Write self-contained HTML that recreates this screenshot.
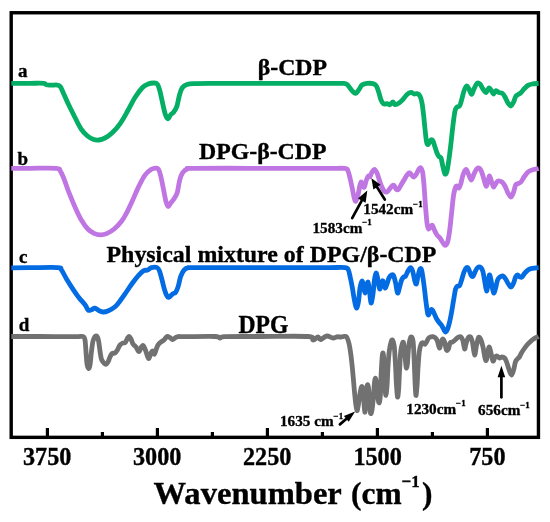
<!DOCTYPE html>
<html><head><meta charset="utf-8"><title>FTIR</title>
<style>
html,body{margin:0;padding:0;background:#fff;}
body{width:550px;height:522px;overflow:hidden;}
svg{display:block;}
text{font-family:"Liberation Serif","DejaVu Serif",serif;font-weight:bold;fill:#000;stroke:#000;stroke-width:0.35px;}
</style></head><body>
<svg width="550" height="522" viewBox="0 0 550 522">
<rect x="0" y="0" width="550" height="522" fill="#fff"/>
<rect x="11.2" y="12.75" width="527.25" height="424.6" fill="none" stroke="#000" stroke-width="3.4"/>
<g id="curves">
<path d="M11.3,83.3C14.4,83.3 24.6,83.3 30.0,83.3C35.4,83.3 40.9,83.1 43.5,83.3C46.1,83.5 44.8,83.9 45.5,84.2C46.2,84.5 46.4,84.8 47.5,85.0C48.6,85.2 50.3,85.1 52.0,85.1C53.7,85.1 56.1,84.8 57.5,85.1C58.9,85.3 59.4,85.6 60.2,86.6C61.0,87.6 61.1,87.9 62.5,91.0C63.9,94.1 66.7,100.6 68.8,105.0C70.9,109.4 73.0,113.5 75.0,117.5C77.0,121.5 78.9,125.7 81.0,128.8C83.1,131.9 85.4,134.2 87.5,136.0C89.6,137.8 91.9,138.8 93.8,139.5C95.7,140.2 96.9,140.2 98.8,140.0C100.7,139.8 102.7,139.2 105.0,138.0C107.3,136.8 110.0,134.9 112.5,132.5C115.0,130.1 117.5,127.3 120.0,123.8C122.5,120.3 125.0,115.7 127.5,111.3C130.0,106.9 132.5,101.5 135.0,97.5C137.5,93.5 140.4,89.7 142.5,87.5C144.6,85.3 145.6,85.0 147.5,84.3C149.4,83.5 152.1,83.0 153.8,83.0C155.5,83.0 156.5,82.9 157.5,84.3C158.5,85.7 159.1,87.8 160.0,91.3C160.9,94.8 162.1,101.0 163.0,105.0C163.9,109.0 164.7,112.7 165.5,115.0C166.3,117.3 167.1,118.9 168.0,118.8C168.9,118.7 169.8,115.6 170.8,114.5C171.8,113.4 172.8,113.4 173.8,112.0C174.8,110.6 176.1,108.8 177.0,106.0C177.9,103.2 178.6,98.1 179.5,95.0C180.4,91.9 181.2,89.2 182.5,87.5C183.8,85.8 184.9,85.2 187.0,84.5C189.1,83.8 191.2,83.8 195.0,83.6C198.8,83.4 199.2,83.4 210.0,83.4C220.8,83.4 245.0,83.4 260.0,83.4C275.0,83.4 288.3,83.4 300.0,83.4C311.7,83.4 322.7,83.4 330.0,83.4C337.3,83.4 341.0,83.1 344.0,83.4C347.0,83.7 346.7,84.2 348.0,85.4C349.3,86.6 350.7,89.3 352.0,90.6C353.3,91.9 354.4,93.6 355.6,93.4C356.8,93.2 357.9,90.8 359.0,89.4C360.1,88.0 360.7,86.0 362.0,85.0C363.3,84.0 365.2,83.6 367.0,83.4C368.8,83.2 371.4,83.2 373.0,83.6C374.6,84.0 375.4,84.4 376.4,86.0C377.4,87.6 378.2,90.7 379.0,93.0C379.8,95.3 380.2,98.2 381.0,100.0C381.8,101.8 382.6,103.4 383.6,104.0C384.6,104.6 386.0,103.5 387.0,103.6C388.0,103.7 388.6,105.1 389.6,104.8C390.6,104.5 392.1,102.0 393.0,102.0C393.9,102.0 394.0,104.4 395.0,104.6C396.0,104.8 397.7,103.9 399.0,103.0C400.3,102.1 401.7,100.8 403.0,99.4C404.3,98.0 405.7,95.6 407.0,94.4C408.3,93.2 409.8,92.5 411.0,92.4C412.2,92.3 413.0,93.8 414.0,94.0C415.0,94.2 416.0,93.3 417.0,93.6C418.0,93.9 419.2,94.4 420.0,96.0C420.8,97.6 421.4,99.8 422.0,103.0C422.6,106.2 423.1,110.7 423.6,115.0C424.1,119.3 424.5,124.7 425.0,129.0C425.5,133.3 425.9,138.4 426.4,141.0C426.9,143.6 427.2,144.8 428.0,144.6C428.8,144.4 430.2,140.6 431.0,140.0C431.8,139.4 432.3,139.8 433.0,141.0C433.7,142.2 434.3,145.0 435.0,147.0C435.7,149.0 436.3,151.4 437.0,153.0C437.7,154.6 438.3,155.8 439.0,156.6C439.7,157.4 440.3,156.3 441.0,158.0C441.7,159.7 442.3,164.3 443.0,167.0C443.7,169.7 444.3,173.3 445.0,174.0C445.7,174.7 446.3,173.5 447.0,171.0C447.7,168.5 448.3,163.7 449.0,159.0C449.7,154.3 450.3,148.7 451.0,143.0C451.7,137.3 452.3,130.3 453.0,125.0C453.7,119.7 454.3,114.0 455.0,111.0C455.7,108.0 456.2,107.8 457.0,107.0C457.8,106.2 458.8,107.2 459.6,106.0C460.4,104.8 460.9,102.5 461.6,100.0C462.3,97.5 463.2,93.3 464.0,91.0C464.8,88.7 465.8,86.3 466.6,86.0C467.4,85.7 468.2,87.6 469.0,89.0C469.8,90.4 470.8,94.4 471.6,94.4C472.4,94.4 473.1,90.8 474.0,89.0C474.9,87.2 476.0,84.2 477.0,83.4C478.0,82.6 479.0,83.1 480.0,84.0C481.0,84.9 482.0,87.6 483.0,89.0C484.0,90.4 485.0,92.8 486.0,92.6C487.0,92.4 488.2,88.4 489.0,88.0C489.8,87.6 490.3,89.0 491.0,90.0C491.7,91.0 492.6,93.9 493.4,94.0C494.2,94.1 495.1,90.8 496.0,90.6C496.9,90.4 497.9,92.1 499.0,92.6C500.1,93.1 501.4,92.7 502.4,93.4C503.4,94.1 504.1,95.4 505.0,97.0C505.9,98.6 507.0,101.5 508.0,103.0C509.0,104.5 510.1,106.2 511.0,106.0C511.9,105.8 512.8,103.6 513.6,102.0C514.4,100.4 514.9,97.8 515.6,96.6C516.3,95.4 517.1,95.3 518.0,94.6C518.9,93.9 520.0,93.5 521.0,92.6C522.0,91.7 522.8,90.2 524.0,89.0C525.2,87.8 526.7,86.2 528.0,85.4C529.3,84.6 530.2,84.3 532.0,84.0C533.8,83.7 537.5,83.5 538.6,83.4" fill="none" stroke="#05ae65" stroke-width="4.8" stroke-linejoin="round" stroke-linecap="butt"/>
<path d="M11.3,168.3C14.4,168.3 22.5,168.3 30.0,168.3C37.5,168.3 51.4,167.9 56.4,168.3C61.4,168.7 58.9,169.0 60.2,170.8C61.5,172.6 62.5,175.2 64.0,178.9C65.5,182.6 67.1,187.9 69.0,192.7C70.9,197.5 73.2,203.1 75.3,207.7C77.4,212.3 79.4,216.8 81.5,220.3C83.6,223.9 85.7,226.8 87.8,229.0C89.9,231.2 91.9,232.3 94.0,233.3C96.1,234.3 98.3,234.8 100.4,234.8C102.5,234.9 104.3,234.6 106.6,233.6C108.9,232.6 111.7,231.1 114.2,229.0C116.7,226.9 119.7,223.6 121.7,221.0C123.7,218.4 124.5,216.9 126.3,213.5C128.1,210.1 130.4,205.0 132.5,200.5C134.6,196.0 136.7,190.6 138.8,186.4C140.9,182.2 142.9,177.9 145.0,175.1C147.1,172.2 149.5,170.5 151.4,169.3C153.3,168.1 155.2,168.0 156.4,168.1C157.7,168.2 158.1,168.3 158.9,170.1C159.7,171.9 160.6,175.3 161.4,178.9C162.2,182.5 163.2,187.7 163.9,191.4C164.7,195.2 165.2,198.9 165.9,201.4C166.6,203.9 167.4,206.3 168.2,206.5C169.0,206.7 169.9,203.9 170.9,202.7C171.9,201.4 172.9,200.7 173.9,199.0C174.9,197.3 176.2,195.8 177.2,192.7C178.2,189.5 178.8,183.4 179.7,180.1C180.6,176.8 181.4,174.5 182.7,172.6C184.0,170.7 186.0,169.5 187.7,168.8C189.4,168.1 182.4,168.4 192.8,168.3C203.2,168.2 232.1,168.3 250.0,168.3C267.9,168.3 286.7,168.3 300.0,168.3C313.3,168.3 322.5,168.4 330.0,168.4C337.5,168.4 342.0,168.0 345.0,168.4C348.0,168.8 347.2,169.4 348.0,171.0C348.8,172.6 349.3,175.3 350.0,178.0C350.7,180.7 351.3,183.8 352.0,187.0C352.7,190.2 353.4,194.6 354.0,197.0C354.6,199.4 355.1,201.6 355.8,201.3C356.5,201.0 357.3,197.7 358.0,195.0C358.7,192.3 359.4,187.2 360.0,185.0C360.6,182.8 360.9,181.8 361.4,182.0C361.9,182.2 362.5,185.2 363.0,186.0C363.5,186.8 363.8,188.0 364.4,187.0C365.0,186.0 365.7,181.8 366.4,180.0C367.1,178.2 367.8,176.6 368.4,176.0C369.0,175.4 369.4,177.3 370.0,176.6C370.6,175.9 371.3,173.2 372.0,172.0C372.7,170.8 373.6,169.2 374.4,169.4C375.2,169.6 376.2,171.4 377.0,173.0C377.8,174.6 378.3,177.0 379.0,179.0C379.7,181.0 380.2,183.0 381.0,185.0C381.8,187.0 383.0,189.8 384.0,191.0C385.0,192.2 386.1,192.3 387.0,192.0C387.9,191.7 388.8,190.0 389.6,189.0C390.4,188.0 391.3,186.6 392.0,186.0C392.7,185.4 393.3,184.9 394.0,185.4C394.7,185.9 395.3,188.3 396.0,189.0C396.7,189.7 397.6,190.1 398.4,189.4C399.2,188.7 400.1,186.6 401.0,185.0C401.9,183.4 403.0,181.7 404.0,180.0C405.0,178.3 406.1,176.2 407.0,175.0C407.9,173.8 408.8,172.6 409.6,172.6C410.4,172.6 410.9,174.3 411.6,175.0C412.3,175.7 413.2,177.2 414.0,177.0C414.8,176.8 415.6,175.3 416.4,174.0C417.2,172.7 418.2,170.0 419.0,169.0C419.8,168.0 420.4,167.5 421.0,168.0C421.6,168.5 422.1,169.2 422.6,172.0C423.1,174.8 423.5,179.5 424.0,185.0C424.5,190.5 424.9,198.7 425.4,205.0C425.9,211.3 426.5,219.0 427.0,223.0C427.5,227.0 427.9,228.5 428.6,229.0C429.3,229.5 430.4,226.6 431.0,226.0C431.6,225.4 431.9,224.9 432.5,225.6C433.1,226.3 433.6,228.4 434.4,230.0C435.1,231.6 436.1,233.7 437.0,235.0C437.9,236.3 439.1,236.8 440.0,238.0C440.9,239.2 441.6,240.8 442.4,242.0C443.2,243.2 444.1,245.4 445.0,245.4C445.9,245.4 446.8,244.4 447.6,242.0C448.4,239.6 448.9,235.8 449.6,231.0C450.3,226.2 450.9,219.0 451.6,213.0C452.3,207.0 452.9,199.3 453.6,195.0C454.3,190.7 455.0,188.5 455.6,187.0C456.2,185.5 456.4,185.8 457.0,186.0C457.6,186.2 458.3,188.5 459.0,188.0C459.7,187.5 460.3,185.2 461.0,183.0C461.7,180.8 462.2,177.3 463.0,175.0C463.8,172.7 465.1,169.6 466.0,169.4C466.9,169.2 467.5,172.2 468.4,174.0C469.3,175.8 470.5,180.0 471.4,180.0C472.3,180.0 473.1,175.9 474.0,174.0C474.9,172.1 475.9,169.4 477.0,168.6C478.1,167.8 479.4,168.2 480.4,169.4C481.4,170.6 482.1,173.2 483.0,176.0C483.9,178.8 485.2,185.2 486.0,186.0C486.8,186.8 487.4,182.7 488.0,181.0C488.6,179.3 489.0,175.8 489.6,176.0C490.2,176.2 490.9,180.2 491.6,182.0C492.3,183.8 492.9,186.7 493.6,187.0C494.3,187.3 494.9,185.0 495.6,184.0C496.3,183.0 496.9,181.3 498.0,181.0C499.1,180.7 500.8,181.2 502.0,182.0C503.2,182.8 504.0,184.2 505.0,186.0C506.0,187.8 507.0,191.2 508.0,193.0C509.0,194.8 510.1,197.2 511.0,197.0C511.9,196.8 512.8,194.0 513.6,192.0C514.4,190.0 514.9,186.4 515.6,185.0C516.3,183.6 517.1,184.1 518.0,183.6C518.9,183.1 520.0,183.1 521.0,182.0C522.0,180.9 522.8,178.7 524.0,177.0C525.2,175.3 526.7,173.2 528.0,172.0C529.3,170.8 530.2,170.6 532.0,170.0C533.8,169.4 537.5,168.8 538.6,168.5" fill="none" stroke="#bf76e2" stroke-width="4.8" stroke-linejoin="round" stroke-linecap="butt"/>
<path d="M11.3,267.8C14.4,267.8 22.3,267.7 30.0,267.7C37.7,267.7 52.5,267.2 57.7,267.6C63.0,268.0 60.0,268.2 61.5,270.1C63.0,272.0 64.6,275.8 66.5,278.9C68.4,282.0 70.7,285.8 72.8,288.9C74.9,292.0 76.9,295.0 79.0,297.7C81.1,300.4 83.8,303.1 85.3,305.2C86.8,307.3 87.2,309.4 88.3,310.2C89.3,310.9 90.5,310.0 91.6,309.7C92.7,309.4 93.5,308.0 94.8,308.2C96.0,308.4 97.8,310.1 99.1,310.7C100.4,311.3 101.4,311.9 102.9,312.0C104.4,312.1 105.8,311.9 107.9,311.0C110.0,310.1 113.3,308.3 115.4,306.5C117.5,304.7 118.7,302.7 120.5,300.3C122.3,297.9 124.3,294.9 126.3,292.0C128.3,289.1 130.4,285.8 132.5,283.0C134.6,280.2 136.9,277.2 138.8,275.1C140.7,273.0 142.3,271.4 143.8,270.6C145.3,269.8 146.3,270.6 147.6,270.1C148.9,269.6 149.8,268.0 151.4,267.6C153.0,267.2 155.7,267.0 157.1,267.6C158.5,268.2 158.8,269.2 159.6,271.3C160.4,273.4 161.2,277.0 162.1,280.1C162.9,283.2 163.8,287.5 164.7,290.2C165.5,292.9 166.5,295.2 167.2,296.4C167.9,297.6 168.0,297.6 168.9,297.2C169.8,296.8 171.6,294.7 172.7,293.9C173.8,293.1 174.8,293.4 175.7,292.2C176.6,290.9 177.4,289.0 178.2,286.4C179.0,283.8 179.7,279.1 180.7,276.4C181.7,273.7 182.8,271.5 184.0,270.1C185.2,268.7 185.9,268.2 187.7,267.8C189.5,267.4 184.6,267.6 195.0,267.6C205.4,267.6 232.5,267.6 250.0,267.6C267.5,267.6 286.7,267.6 300.0,267.6C313.3,267.6 322.5,267.6 330.0,267.6C337.5,267.6 341.9,267.2 345.0,267.6C348.1,268.0 347.5,268.3 348.4,270.0C349.3,271.7 349.7,275.0 350.4,278.0C351.1,281.0 351.7,284.3 352.4,288.0C353.1,291.7 353.7,296.7 354.4,300.0C355.1,303.3 355.7,307.7 356.4,308.0C357.1,308.3 357.8,305.3 358.4,302.0C359.0,298.7 359.4,291.5 360.0,288.0C360.6,284.5 361.4,281.2 362.0,281.0C362.6,280.8 363.1,285.0 363.6,287.0C364.1,289.0 364.5,293.0 365.0,293.0C365.5,293.0 366.1,288.8 366.6,287.0C367.1,285.2 367.5,281.5 368.0,282.0C368.5,282.5 368.9,286.5 369.4,290.0C369.9,293.5 370.4,302.3 371.0,303.0C371.6,303.7 372.4,297.8 373.0,294.0C373.6,290.2 373.9,283.5 374.4,280.0C374.9,276.5 375.5,273.3 376.0,273.0C376.5,272.7 377.0,275.3 377.6,278.0C378.2,280.7 378.9,288.2 379.6,289.0C380.3,289.8 381.0,284.3 381.6,283.0C382.2,281.7 382.4,280.2 383.0,281.0C383.6,281.8 384.3,287.5 385.0,288.0C385.7,288.5 386.3,285.7 387.0,284.0C387.7,282.3 388.2,279.5 389.0,278.0C389.8,276.5 390.8,275.4 391.6,275.0C392.4,274.6 392.9,274.3 393.6,275.6C394.3,276.9 394.9,280.1 395.6,283.0C396.3,285.9 396.9,292.3 397.6,293.0C398.3,293.7 398.9,289.2 399.6,287.0C400.3,284.8 400.9,281.7 401.6,280.0C402.3,278.3 402.9,277.7 403.6,277.0C404.3,276.3 404.9,277.0 405.6,276.0C406.3,275.0 407.2,272.4 408.0,271.0C408.8,269.6 409.8,267.6 410.6,267.6C411.4,267.6 411.9,268.9 412.6,271.0C413.3,273.1 414.0,277.8 414.6,280.0C415.2,282.2 415.8,284.7 416.4,284.0C417.0,283.3 417.4,278.5 418.0,276.0C418.6,273.5 419.4,270.0 420.0,269.0C420.6,268.0 421.1,268.5 421.6,270.0C422.1,271.5 422.5,274.7 423.0,278.0C423.5,281.3 424.1,286.0 424.6,290.0C425.1,294.0 425.5,298.3 426.0,302.0C426.5,305.7 427.0,309.8 427.4,312.0C427.8,314.2 428.1,315.3 428.6,315.0C429.1,314.7 430.0,310.8 430.6,310.0C431.2,309.2 431.8,309.3 432.4,310.0C433.0,310.7 433.6,312.4 434.4,314.0C435.2,315.6 436.1,318.1 437.0,319.6C437.9,321.1 438.8,321.9 439.6,323.0C440.4,324.1 441.3,324.8 442.0,326.0C442.7,327.2 443.4,329.0 444.0,330.0C444.6,331.0 445.0,332.2 445.6,332.0C446.2,331.8 446.9,330.7 447.6,329.0C448.3,327.3 448.9,324.8 449.6,322.0C450.3,319.2 450.9,315.7 451.6,312.0C452.3,308.3 452.9,303.8 453.6,300.0C454.3,296.2 454.9,291.3 455.6,289.0C456.3,286.7 456.9,286.6 457.6,286.0C458.3,285.4 458.9,286.6 459.6,285.6C460.3,284.6 460.9,282.3 461.6,280.0C462.3,277.7 463.2,274.1 464.0,272.0C464.8,269.9 465.8,268.1 466.6,267.6C467.4,267.1 467.9,267.8 468.6,269.0C469.3,270.2 470.3,273.8 471.0,275.0C471.7,276.2 472.3,276.9 473.0,276.4C473.7,275.9 474.2,273.5 475.0,272.0C475.8,270.5 476.6,268.3 477.6,267.6C478.6,266.9 480.1,266.9 481.0,267.6C481.9,268.3 482.3,269.4 483.0,272.0C483.7,274.6 484.4,279.8 485.0,283.0C485.6,286.2 486.1,290.8 486.6,291.0C487.1,291.2 487.5,286.7 488.0,284.0C488.5,281.3 488.9,275.7 489.4,275.0C489.9,274.3 490.5,277.7 491.0,280.0C491.5,282.3 492.1,286.8 492.6,289.0C493.1,291.2 493.5,293.2 494.0,293.0C494.5,292.8 495.0,290.2 495.6,288.0C496.2,285.8 496.9,281.8 497.6,280.0C498.3,278.2 499.1,277.7 500.0,277.0C500.9,276.3 502.1,275.7 503.0,276.0C503.9,276.3 504.7,277.7 505.6,279.0C506.5,280.3 507.5,282.7 508.4,284.0C509.3,285.3 510.1,287.2 511.0,287.0C511.9,286.8 512.8,284.7 513.6,283.0C514.4,281.3 514.9,278.3 515.6,277.0C516.3,275.7 516.9,275.0 517.6,275.0C518.3,275.0 519.3,276.7 520.0,277.0C520.7,277.3 521.3,277.6 522.0,277.0C522.7,276.4 523.4,274.8 524.4,273.6C525.4,272.4 526.7,270.9 528.0,270.0C529.3,269.1 530.2,268.8 532.0,268.4C533.8,268.0 537.5,267.7 538.6,267.6" fill="none" stroke="#046ce3" stroke-width="4.8" stroke-linejoin="round" stroke-linecap="butt"/>
<path d="M11.3,336.5C16.1,336.5 29.4,336.5 40.0,336.5C50.6,336.5 67.8,336.6 75.0,336.6C82.2,336.6 81.3,336.0 83.0,336.6C84.7,337.2 84.5,337.4 85.0,340.0C85.5,342.6 85.7,348.0 86.0,352.0C86.3,356.0 86.6,361.3 87.0,364.0C87.4,366.7 87.9,368.2 88.4,368.4C88.9,368.6 89.5,367.7 90.0,365.0C90.5,362.3 90.9,356.0 91.4,352.0C91.9,348.0 92.4,343.6 93.0,341.0C93.6,338.4 94.3,337.4 95.0,336.6C95.7,335.8 96.4,335.7 97.0,336.4C97.6,337.1 98.1,338.6 98.6,341.0C99.1,343.4 99.5,348.0 100.0,351.0C100.5,354.0 100.8,357.1 101.4,359.0C102.0,360.9 102.7,361.5 103.4,362.4C104.1,363.3 104.8,364.5 105.6,364.4C106.4,364.3 107.3,363.2 108.0,362.0C108.7,360.8 109.3,358.4 110.0,357.0C110.7,355.6 111.2,354.3 112.0,353.6C112.8,352.9 114.1,353.6 115.0,353.0C115.9,352.4 116.6,351.3 117.4,350.0C118.2,348.7 119.1,346.2 120.0,345.0C120.9,343.8 122.1,343.4 123.0,343.0C123.9,342.6 124.7,343.2 125.4,342.4C126.1,341.6 126.8,339.4 127.4,338.4C128.0,337.4 128.4,336.3 129.0,336.4C129.6,336.5 130.3,337.7 131.0,339.0C131.7,340.3 132.2,342.7 133.0,344.0C133.8,345.3 135.0,345.7 136.0,347.0C137.0,348.3 138.1,351.6 139.0,351.6C139.9,351.6 140.7,348.0 141.4,347.0C142.1,346.0 142.7,345.1 143.4,345.6C144.1,346.1 144.7,348.3 145.4,350.0C146.1,351.7 146.8,354.6 147.4,356.0C148.0,357.4 148.4,358.9 149.0,358.4C149.6,357.9 150.4,354.2 151.0,353.0C151.6,351.8 152.0,350.8 152.6,351.0C153.2,351.2 153.8,354.6 154.4,354.4C155.0,354.2 155.4,351.6 156.0,350.0C156.6,348.4 157.2,346.3 158.0,345.0C158.8,343.7 160.0,342.8 161.0,342.0C162.0,341.2 163.0,340.9 164.0,340.0C165.0,339.1 166.0,336.8 167.0,336.4C168.0,336.0 169.1,337.1 170.0,337.6C170.9,338.1 171.8,339.5 172.6,339.6C173.4,339.7 174.1,338.5 175.0,338.0C175.9,337.5 176.3,336.8 178.0,336.6C179.7,336.4 178.8,336.6 185.0,336.6C191.2,336.6 209.2,336.3 215.0,336.5C220.8,336.7 218.3,338.0 220.0,338.0C221.7,338.0 218.3,336.9 225.0,336.6C231.7,336.4 246.2,336.5 260.0,336.5C273.8,336.5 299.2,335.9 308.0,336.5C316.8,337.1 311.3,339.9 313.0,340.0C314.7,340.1 316.7,337.1 318.0,337.0C319.3,336.9 319.1,339.7 320.6,339.5C322.1,339.3 324.7,336.2 326.8,336.0C328.9,335.8 331.3,337.9 333.0,338.0C334.7,338.1 335.8,337.0 337.0,336.8C338.2,336.6 338.9,337.0 340.0,337.0C341.1,337.0 342.2,336.6 343.3,336.6C344.4,336.6 345.7,335.9 346.6,337.0C347.6,338.1 348.3,340.8 349.0,343.5C349.7,346.2 350.1,349.3 350.7,353.4C351.3,357.5 351.8,362.7 352.4,368.2C352.9,373.7 353.5,380.6 354.0,386.4C354.5,392.2 355.1,398.8 355.6,402.8C356.1,406.8 356.5,410.3 357.0,410.6C357.5,410.9 357.9,407.2 358.4,404.5C358.9,401.8 359.3,397.5 359.8,394.6C360.3,391.7 360.9,388.3 361.4,387.2C361.9,386.1 362.2,386.2 362.6,388.0C363.0,389.8 363.2,393.9 363.6,397.9C364.0,401.9 364.4,411.6 364.8,412.2C365.2,412.8 365.5,405.2 365.9,401.2C366.2,397.2 366.6,390.8 366.9,388.0C367.2,385.2 367.4,384.4 367.7,384.7C368.0,385.0 368.4,386.4 368.7,389.7C369.0,393.0 369.3,400.5 369.6,404.5C369.9,408.5 370.2,412.7 370.6,413.5C371.0,414.3 371.7,412.0 372.1,409.4C372.6,406.8 372.9,402.0 373.3,397.9C373.7,393.8 374.0,388.0 374.3,384.7C374.6,381.4 375.0,378.1 375.4,378.1C375.8,378.1 376.2,381.4 376.6,384.7C377.0,388.0 377.5,394.9 377.9,397.9C378.3,400.9 378.8,403.4 379.2,402.8C379.6,402.2 380.1,399.5 380.4,394.6C380.7,389.7 380.9,379.5 381.2,373.2C381.5,366.9 381.9,360.0 382.2,356.7C382.5,353.4 382.9,352.0 383.2,353.4C383.5,354.8 383.9,359.5 384.2,365.0C384.5,370.5 384.7,381.3 385.0,386.4C385.3,391.5 385.5,395.4 385.8,395.4C386.1,395.4 386.6,391.5 387.0,386.4C387.4,381.3 387.7,371.1 388.1,365.0C388.5,358.9 388.9,354.0 389.4,350.1C389.9,346.2 390.6,343.5 391.1,341.9C391.6,340.2 392.1,339.5 392.6,340.2C393.1,340.9 393.7,342.2 394.2,346.0C394.7,349.8 395.0,356.7 395.4,363.0C395.8,369.3 396.0,378.3 396.4,384.0C396.8,389.7 397.1,396.1 397.5,397.0C397.9,397.9 398.2,394.2 398.6,389.7C399.0,385.2 399.2,376.2 399.6,369.9C400.0,363.6 400.2,356.2 400.7,351.8C401.2,347.4 401.9,345.0 402.4,343.5C402.9,342.0 403.1,341.6 403.5,342.7C403.9,343.8 404.1,346.7 404.5,350.1C404.9,353.5 405.4,360.3 405.7,363.3C406.0,366.3 406.2,368.2 406.5,368.2C406.8,368.2 407.2,366.6 407.5,363.3C407.8,360.0 408.1,352.4 408.5,348.5C408.9,344.6 409.3,342.1 409.8,340.2C410.3,338.3 410.8,336.6 411.4,336.9C411.9,337.2 412.7,338.3 413.1,341.9C413.6,345.5 413.8,351.8 414.1,358.4C414.4,365.0 414.7,375.2 415.0,381.4C415.3,387.6 415.6,394.6 415.9,395.4C416.2,396.2 416.6,390.9 417.0,386.4C417.4,381.9 417.6,374.0 418.0,368.2C418.4,362.4 418.8,355.8 419.3,351.8C419.8,347.8 420.4,345.9 421.0,344.4C421.6,342.9 422.4,342.7 423.0,342.7C423.6,342.7 424.3,344.5 424.9,344.4C425.5,344.3 426.1,342.9 426.6,341.9C427.2,340.9 427.6,339.4 428.2,338.6C428.8,337.8 429.6,337.2 430.4,336.9C431.2,336.6 432.0,336.5 432.8,336.6C433.6,336.8 434.5,337.1 435.3,337.8C436.1,338.5 436.7,339.3 437.4,341.0C438.1,342.7 438.8,347.7 439.4,348.0C440.0,348.3 440.5,344.5 441.0,343.0C441.5,341.5 442.0,339.2 442.6,339.0C443.2,338.8 444.0,340.2 444.6,342.0C445.2,343.8 445.8,348.8 446.4,350.0C447.0,351.2 447.8,350.2 448.4,349.0C449.0,347.8 449.3,344.2 450.0,343.0C450.7,341.8 451.8,342.5 452.6,342.0C453.4,341.5 454.1,340.8 455.0,340.0C455.9,339.2 457.0,337.9 458.0,337.4C459.0,336.9 460.2,336.4 461.0,337.0C461.8,337.6 462.4,339.0 463.0,341.0C463.6,343.0 464.1,348.5 464.6,349.0C465.1,349.5 465.4,345.8 466.0,344.0C466.6,342.2 467.2,339.2 468.0,338.0C468.8,336.8 469.8,336.2 470.6,337.0C471.4,337.8 471.9,340.0 472.6,343.0C473.3,346.0 473.9,354.7 474.6,355.0C475.3,355.3 475.9,347.9 476.6,345.0C477.3,342.1 477.9,338.2 478.6,337.4C479.3,336.6 480.3,338.4 481.0,340.0C481.7,341.6 482.3,344.0 483.0,347.0C483.7,350.0 484.4,355.8 485.0,358.0C485.6,360.2 485.9,361.2 486.4,360.0C486.9,358.8 487.5,353.2 488.0,351.0C488.5,348.8 488.9,346.7 489.4,347.0C489.9,347.3 490.4,350.7 491.0,353.0C491.6,355.3 492.3,360.3 493.0,361.0C493.7,361.7 494.3,357.8 495.0,357.0C495.7,356.2 496.3,355.8 497.0,356.0C497.7,356.2 498.6,357.8 499.4,358.0C500.2,358.2 501.1,357.0 502.0,357.0C502.9,357.0 503.8,357.2 504.6,358.0C505.4,358.8 505.9,360.1 506.6,362.0C507.3,363.9 508.2,367.3 509.0,369.5C509.8,371.7 510.6,374.9 511.4,375.0C512.2,375.1 512.9,372.2 513.6,370.0C514.3,367.8 514.8,363.8 515.4,362.0C516.0,360.2 516.7,359.8 517.4,359.0C518.1,358.2 518.7,358.0 519.4,357.0C520.1,356.0 520.6,354.3 521.4,353.0C522.2,351.7 523.1,350.3 524.0,349.0C524.9,347.7 526.0,346.2 527.0,345.0C528.0,343.8 529.0,342.9 530.0,342.0C531.0,341.1 532.0,340.1 533.0,339.4C534.0,338.7 535.1,338.1 536.0,337.6C536.9,337.1 538.2,336.8 538.6,336.6" fill="none" stroke="#717171" stroke-width="4.8" stroke-linejoin="round" stroke-linecap="butt"/>
</g>
<g id="ticks">
<line x1="47.4" y1="428" x2="47.4" y2="437" stroke="#000" stroke-width="3.2"/>
<line x1="157.4" y1="428" x2="157.4" y2="437" stroke="#000" stroke-width="3.2"/>
<line x1="267.4" y1="428" x2="267.4" y2="437" stroke="#000" stroke-width="3.2"/>
<line x1="377.4" y1="428" x2="377.4" y2="437" stroke="#000" stroke-width="3.2"/>
<line x1="487.4" y1="428" x2="487.4" y2="437" stroke="#000" stroke-width="3.2"/>
<line x1="102.4" y1="432" x2="102.4" y2="437" stroke="#000" stroke-width="3.2"/>
<line x1="212.4" y1="432" x2="212.4" y2="437" stroke="#000" stroke-width="3.2"/>
<line x1="322.4" y1="432" x2="322.4" y2="437" stroke="#000" stroke-width="3.2"/>
<line x1="432.4" y1="432" x2="432.4" y2="437" stroke="#000" stroke-width="3.2"/>
</g>
<g id="ticklabels">
<text transform="translate(47.2,465.3) scale(1,1.05)" font-size="24.2" text-anchor="middle">3750</text>
<text transform="translate(157.2,465.3) scale(1,1.05)" font-size="24.2" text-anchor="middle">3000</text>
<text transform="translate(267.2,465.3) scale(1,1.05)" font-size="24.2" text-anchor="middle">2250</text>
<text transform="translate(377.6,465.3) scale(1,1.05)" font-size="24.2" text-anchor="middle">1500</text>
<text transform="translate(487.4,465.3) scale(1,1.05)" font-size="24.2" text-anchor="middle">750</text>
</g>
<g id="labels">
<text transform="translate(18,77) scale(1,1.04)" font-size="19">a</text>
<text transform="translate(17.5,165) scale(1,1.04)" font-size="19">b</text>
<text transform="translate(19,263) scale(1,1.04)" font-size="19">c</text>
<text transform="translate(18.8,331) scale(1,1.04)" font-size="19">d</text>
<text id="t1" transform="translate(257.7,74.6) scale(1,1.0)" font-size="23.8">β-CDP</text>
<text id="t2" transform="translate(199,158.5) scale(1,1.0)" font-size="23.8">DPG-β-CDP</text>
<text id="t3" transform="translate(106.5,262) scale(1,0.97)" font-size="23.9">Physical mixture of DPG/β-CDP</text>
<text id="t4" transform="translate(238.5,332.5) scale(1,1.06)" font-size="23.6">DPG</text>
<text id="p1" transform="translate(363.3,214) scale(1,0.97)" font-size="15.2">1542cm<tspan dy="-7.6" font-size="8.9">−1</tspan></text>
<text id="p2" transform="translate(312.5,232.6) scale(1,0.97)" font-size="15.2">1583cm<tspan dy="-7.6" font-size="8.9">−1</tspan></text>
<text id="p3" transform="translate(280,426.4) scale(1,0.97)" font-size="15.2">1635 cm<tspan dy="-7.6" font-size="8.9">−1</tspan></text>
<text id="p4" transform="translate(406.3,413.5) scale(1,0.97)" font-size="15.2">1230cm<tspan dy="-7.6" font-size="8.9">−1</tspan></text>
<text id="p5" transform="translate(478.1,415.2) scale(1,0.97)" font-size="15.2">656cm<tspan dy="-7.6" font-size="8.9">−1</tspan></text>
<text id="xl" transform="translate(0,504) scale(1,1.0)" font-size="32.6"><tspan x="153.6">Wavenumber </tspan><tspan x="351" font-size="31.4">(cm</tspan><tspan x="401.6" dy="-17.5" font-size="17">−1</tspan><tspan x="422" dy="17.5" font-size="31.4">)</tspan></text>
</g>
<g id="arrows">
<line x1="352.2" y1="218.1" x2="362.3" y2="199.7" stroke="#000" stroke-width="2.7" stroke-linecap="round"/>
<polygon points="367.3,190.5 365.6,202.7 358.0,198.5" fill="#000"/>
<line x1="384.8" y1="199.5" x2="376.5" y2="186.2" stroke="#000" stroke-width="2.7" stroke-linecap="round"/>
<polygon points="371.4,178.2 380.6,184.8 373.4,189.4" fill="#000"/>
<line x1="339.9" y1="424.4" x2="347.1" y2="418.3" stroke="#000" stroke-width="2.7" stroke-linecap="round"/>
<polygon points="355.1,411.5 348.7,421.8 343.9,416.1" fill="#000"/>
<line x1="501.4" y1="397.3" x2="501.4" y2="376.2" stroke="#000" stroke-width="2.7" stroke-linecap="round"/>
<polygon points="501.4,365.7 505.2,377.2 497.6,377.2" fill="#000"/>
</g>
</svg>
</body></html>
